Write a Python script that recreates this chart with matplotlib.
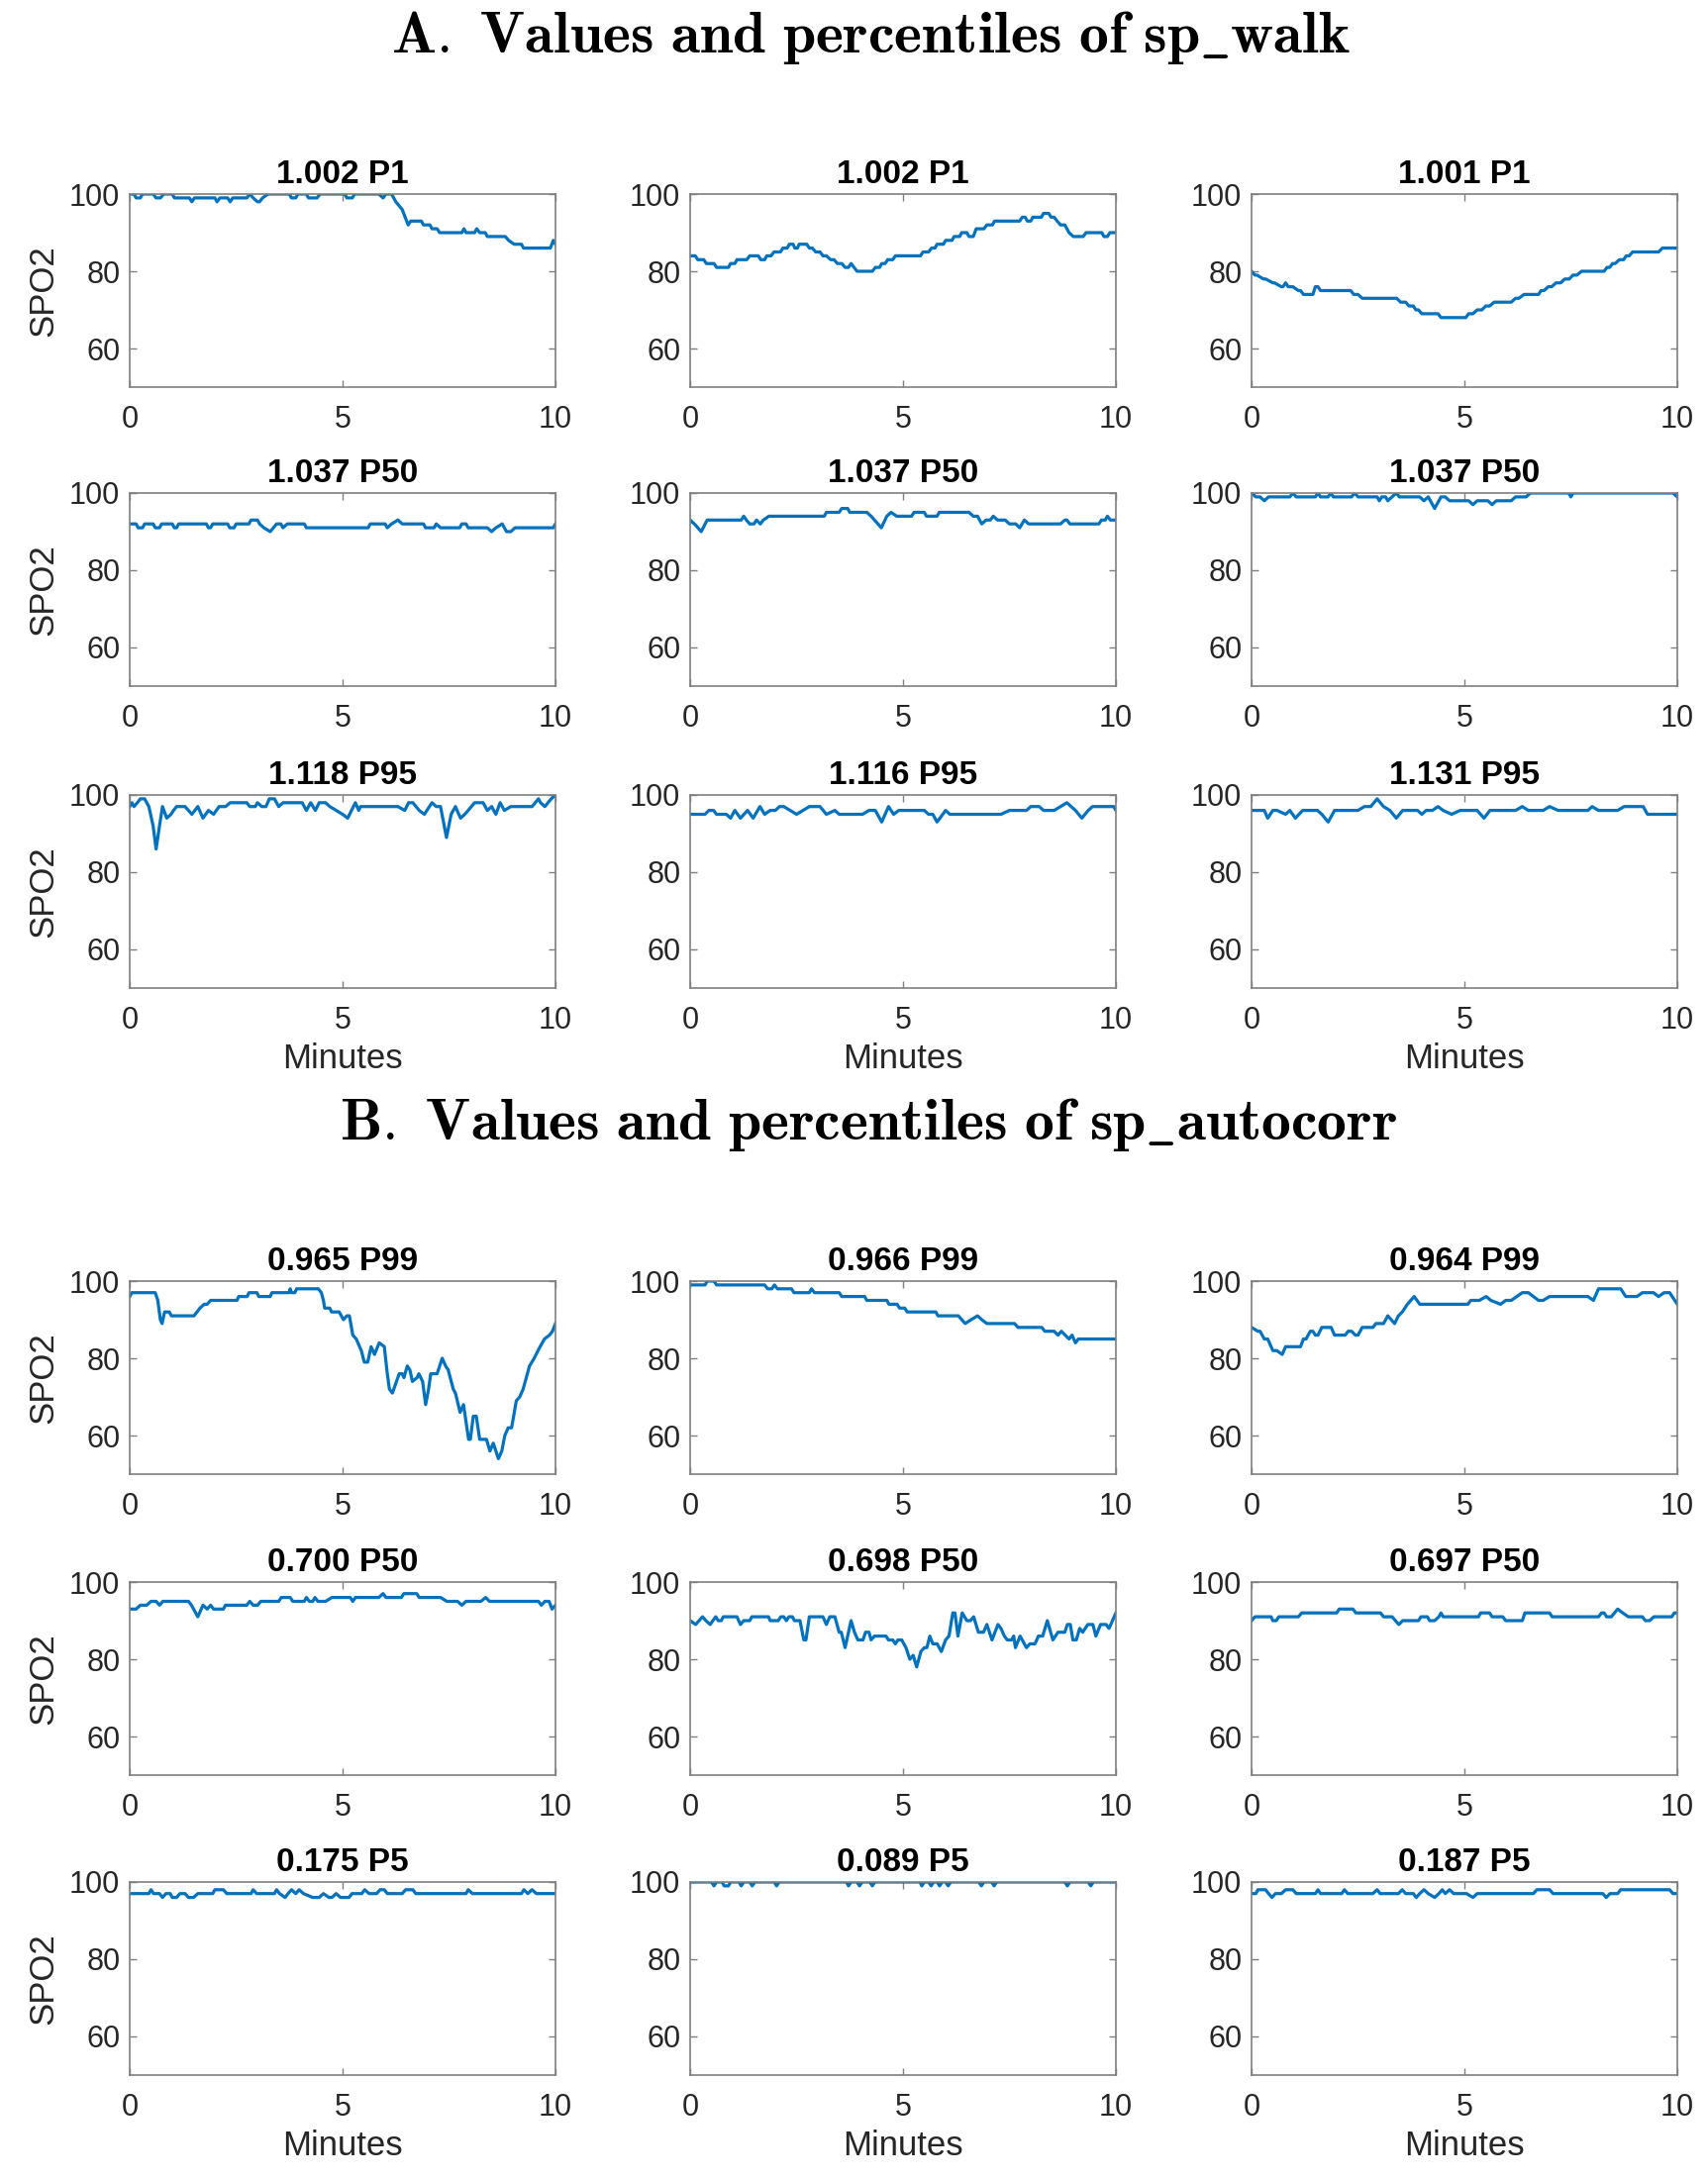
import matplotlib
matplotlib.use("Agg")
import matplotlib.pyplot as plt

plt.rcParams["font.family"] = ["Liberation Sans", "DejaVu Sans"]
plt.rcParams["mathtext.fontset"] = "cm"

# ---- data: (minute, SpO2) breakpoints ----

# A. sp_walk, P1 row
walk_p1_a = [(0, 100), (0.1, 100), (0.15, 99), (0.25, 99), (0.3, 100), (0.55, 100), (0.62, 99), (0.72, 99),
             (0.8, 100), (1.0, 100), (1.05, 99), (1.4, 99), (1.46, 98), (1.52, 99), (2.0, 99), (2.05, 98),
             (2.12, 99), (2.3, 99), (2.36, 98), (2.42, 99), (2.75, 99), (2.82, 100), (2.9, 99), (3.0, 98),
             (3.05, 98), (3.12, 99), (3.25, 100), (3.75, 100), (3.8, 99), (3.9, 99), (3.95, 100), (4.15, 100),
             (4.2, 99), (4.4, 99), (4.47, 100), (5.05, 100), (5.1, 99), (5.23, 99), (5.28, 100), (5.85, 100),
             (5.95, 99), (6.02, 100), (6.15, 100), (6.25, 98), (6.4, 96), (6.54, 92), (6.6, 93), (6.85, 93),
             (6.9, 92), (7.05, 92), (7.1, 91), (7.22, 91), (7.28, 90), (7.8, 90), (7.85, 91), (7.9, 90),
             (8.1, 90), (8.15, 91), (8.22, 90), (8.35, 90), (8.4, 89), (8.82, 89), (8.9, 88), (9.03, 87),
             (9.2, 87), (9.25, 86), (9.88, 86), (9.95, 88), (10, 87)]
walk_p1_b = [(0, 84), (0.12, 84), (0.18, 83), (0.32, 83), (0.38, 82), (0.56, 82), (0.62, 81), (0.9, 81),
             (0.95, 82), (1.05, 82), (1.1, 83), (1.33, 83), (1.4, 84), (1.6, 84), (1.66, 83), (1.75, 83),
             (1.8, 84), (1.9, 84), (1.97, 85), (2.12, 85), (2.18, 86), (2.28, 86), (2.33, 87), (2.42, 87),
             (2.46, 86), (2.52, 86), (2.56, 87), (2.74, 87), (2.8, 86), (2.87, 86), (2.95, 85), (3.05, 85),
             (3.12, 84), (3.2, 84), (3.3, 83), (3.38, 83), (3.46, 82), (3.56, 82), (3.64, 81), (3.72, 81),
             (3.78, 82), (3.85, 81), (3.92, 80), (4.28, 80), (4.35, 81), (4.45, 81), (4.5, 82), (4.58, 82),
             (4.64, 83), (4.76, 83), (4.82, 84), (5.41, 84), (5.47, 85), (5.6, 85), (5.67, 86), (5.75, 86),
             (5.8, 87), (5.95, 87), (6.0, 88), (6.15, 88), (6.2, 89), (6.33, 89), (6.38, 90), (6.5, 90),
             (6.55, 89), (6.65, 89), (6.72, 91), (6.9, 91), (6.97, 92), (7.1, 92), (7.15, 93), (7.74, 93),
             (7.8, 94), (7.87, 94), (7.92, 93), (8.0, 93), (8.05, 94), (8.25, 94), (8.3, 95), (8.42, 95),
             (8.48, 94), (8.55, 94), (8.62, 93), (8.7, 92), (8.8, 92), (8.9, 90), (9.0, 89), (9.23, 89),
             (9.3, 90), (9.67, 90), (9.72, 89), (9.8, 89), (9.86, 90), (10, 90)]
walk_p1_c = [(0, 80), (0.08, 79), (0.13, 79), (0.28, 78), (0.33, 78), (0.5, 77), (0.54, 77), (0.7, 76),
             (0.74, 76), (0.8, 77), (0.86, 76), (0.97, 76), (1.1, 75), (1.15, 75), (1.22, 74), (1.44, 74),
             (1.5, 76), (1.56, 76), (1.62, 75), (2.33, 75), (2.4, 74), (2.5, 74), (2.6, 73), (3.41, 73),
             (3.5, 72), (3.62, 72), (3.7, 71), (3.8, 71), (3.86, 70), (3.92, 70), (4.0, 69), (4.38, 69),
             (4.45, 68), (5.03, 68), (5.1, 69), (5.2, 69), (5.3, 70), (5.41, 70), (5.5, 71), (5.59, 71),
             (5.7, 72), (6.1, 72), (6.2, 73), (6.28, 73), (6.4, 74), (6.74, 74), (6.8, 75), (6.87, 75),
             (6.97, 76), (7.05, 76), (7.15, 77), (7.26, 77), (7.36, 78), (7.46, 78), (7.55, 79), (7.64, 79),
             (7.75, 80), (8.28, 80), (8.35, 81), (8.41, 81), (8.48, 82), (8.54, 82), (8.64, 83), (8.74, 83),
             (8.8, 84), (8.87, 84), (8.95, 85), (9.56, 85), (9.65, 86), (10, 86)]

# A. sp_walk, P50 row
walk_p50_a = [(0, 92), (0.15, 92), (0.2, 91), (0.3, 91), (0.35, 92), (0.55, 92), (0.6, 91), (0.7, 91),
              (0.75, 92), (1.0, 92), (1.05, 91), (1.1, 91), (1.15, 92), (1.8, 92), (1.85, 91), (1.9, 91),
              (1.95, 92), (2.3, 92), (2.35, 91), (2.45, 91), (2.5, 92), (2.8, 92), (2.85, 93), (3.0, 93),
              (3.05, 92), (3.15, 91), (3.3, 90), (3.45, 92), (3.55, 92), (3.6, 91), (3.7, 92), (4.1, 92),
              (4.15, 91), (5.6, 91), (5.65, 92), (6.0, 92), (6.05, 91), (6.15, 92), (6.3, 93), (6.4, 92),
              (6.9, 92), (6.95, 91), (7.15, 91), (7.2, 92), (7.3, 91), (7.75, 91), (7.8, 92), (7.9, 92),
              (7.95, 91), (8.4, 91), (8.5, 90), (8.6, 91), (8.75, 92), (8.85, 90), (8.95, 90), (9.05, 91),
              (9.95, 91), (10, 92)]
walk_p50_b = [(0, 93), (0.1, 92), (0.26, 90), (0.4, 93), (1.2, 93), (1.26, 94), (1.32, 93), (1.4, 92),
              (1.5, 92), (1.56, 93), (1.65, 92), (1.72, 93), (1.85, 94), (3.15, 94), (3.2, 95), (3.5, 95),
              (3.56, 96), (3.7, 96), (3.75, 95), (4.15, 95), (4.25, 94), (4.49, 91), (4.62, 94), (4.72, 95),
              (4.85, 94), (5.2, 94), (5.26, 95), (5.5, 95), (5.55, 94), (5.8, 94), (5.85, 95), (6.55, 95),
              (6.65, 94), (6.75, 94), (6.85, 92), (6.95, 93), (7.05, 93), (7.12, 94), (7.22, 93), (7.4, 93),
              (7.5, 92), (7.65, 92), (7.74, 91), (7.85, 93), (7.95, 92), (8.7, 92), (8.8, 93), (8.85, 93),
              (8.92, 92), (9.6, 92), (9.66, 93), (9.75, 93), (9.8, 94), (9.87, 93), (10, 93)]
walk_p50_c = [(0, 100), (0.1, 99), (0.2, 99), (0.3, 98), (0.4, 99), (0.9, 99), (0.97, 100), (1.05, 99),
              (1.5, 99), (1.56, 100), (1.62, 99), (1.8, 99), (1.86, 100), (1.92, 99), (2.35, 99), (2.42, 100),
              (2.5, 99), (2.95, 99), (3.0, 98), (3.06, 99), (3.15, 99), (3.2, 98), (3.3, 99), (3.4, 100),
              (3.47, 99), (3.95, 99), (4.05, 98), (4.15, 99), (4.3, 96), (4.45, 99), (4.55, 99), (4.65, 98),
              (5.1, 98), (5.2, 97), (5.3, 98), (5.55, 98), (5.65, 97), (5.75, 98), (6.1, 98), (6.2, 99),
              (6.45, 99), (6.55, 100), (7.45, 100), (7.5, 99), (7.55, 100), (9.9, 100), (10, 99)]

# A. sp_walk, P95 row
walk_p95_a = [(0, 97), (0.05, 98), (0.1, 97), (0.18, 98), (0.25, 99), (0.35, 99), (0.45, 97), (0.55, 92),
              (0.62, 86), (0.7, 92), (0.77, 97), (0.87, 94), (0.97, 95), (1.03, 96), (1.1, 97), (1.3, 97),
              (1.46, 95), (1.6, 97), (1.72, 94), (1.85, 96), (1.97, 95), (2.1, 97), (2.25, 97), (2.36, 98),
              (2.75, 98), (2.82, 97), (2.95, 97), (3.0, 98), (3.1, 97), (3.2, 97), (3.28, 99), (3.4, 99),
              (3.5, 97), (3.6, 98), (4.05, 98), (4.15, 96), (4.25, 98), (4.36, 96), (4.45, 98), (4.6, 98),
              (4.7, 97), (4.85, 96), (5.0, 95), (5.12, 94), (5.3, 98), (5.38, 96), (5.42, 97), (6.3, 97),
              (6.46, 96), (6.55, 98), (6.65, 98), (6.8, 96), (6.92, 95), (7.1, 98), (7.2, 97), (7.3, 97),
              (7.44, 89), (7.55, 95), (7.65, 97), (7.77, 94), (7.87, 95), (7.95, 96), (8.1, 98), (8.3, 98),
              (8.4, 96), (8.5, 97), (8.6, 95), (8.7, 98), (8.8, 96), (8.95, 97), (9.45, 97), (9.6, 99),
              (9.65, 98), (9.75, 97), (9.9, 99), (10, 100)]
walk_p95_b = [(0, 95), (0.35, 95), (0.44, 96), (0.55, 96), (0.62, 95), (0.85, 95), (0.95, 94), (1.05, 96),
              (1.18, 94), (1.35, 96), (1.48, 94), (1.64, 97), (1.75, 95), (1.88, 96), (2.0, 96), (2.1, 97),
              (2.2, 97), (2.35, 96), (2.5, 95), (2.65, 96), (2.8, 97), (3.05, 97), (3.2, 95), (3.4, 96),
              (3.5, 95), (4.05, 95), (4.2, 96), (4.35, 96), (4.5, 93), (4.66, 97), (4.78, 95), (4.9, 96),
              (5.5, 96), (5.6, 95), (5.7, 95), (5.8, 93), (6.0, 96), (6.1, 95), (7.3, 95), (7.5, 96),
              (7.9, 96), (8.0, 97), (8.2, 97), (8.3, 96), (8.55, 96), (8.7, 97), (8.85, 98), (8.95, 97),
              (9.05, 96), (9.2, 94), (9.35, 96), (9.45, 97), (9.95, 97), (10, 96)]
walk_p95_c = [(0, 96), (0.3, 96), (0.38, 94), (0.5, 96), (0.6, 96), (0.8, 95), (0.9, 96), (1.03, 94),
              (1.2, 96), (1.55, 96), (1.65, 95), (1.8, 93), (1.95, 96), (2.5, 96), (2.65, 97), (2.8, 97),
              (2.95, 99), (3.1, 97), (3.25, 96), (3.4, 94), (3.55, 96), (3.9, 96), (4.0, 95), (4.1, 96),
              (4.25, 96), (4.38, 97), (4.5, 96), (4.7, 95), (4.9, 96), (5.3, 96), (5.46, 94), (5.6, 96),
              (6.2, 96), (6.36, 97), (6.5, 96), (6.85, 96), (7.0, 97), (7.2, 96), (7.9, 96), (8.0, 97),
              (8.15, 96), (8.6, 96), (8.75, 97), (9.2, 97), (9.3, 95), (10, 95)]

# B. sp_autocorr, P99 row
auto_p99_a = [(0, 96), (0.05, 97), (0.6, 97), (0.66, 95), (0.72, 90), (0.76, 89), (0.82, 92), (0.93, 92),
              (0.98, 91), (1.51, 91), (1.58, 92), (1.65, 93), (1.75, 94), (1.82, 94), (1.9, 95), (2.52, 95),
              (2.56, 96), (2.76, 96), (2.8, 97), (2.99, 97), (3.03, 96), (3.3, 96), (3.34, 97), (3.74, 97),
              (3.77, 98), (3.8, 97), (3.88, 97), (3.92, 98), (4.43, 98), (4.5, 97), (4.55, 95), (4.58, 93),
              (4.7, 93), (4.74, 92), (4.92, 92), (4.97, 91), (5.02, 90), (5.1, 91), (5.16, 91), (5.24, 86),
              (5.32, 85), (5.44, 82), (5.51, 79), (5.59, 79), (5.67, 83), (5.75, 81), (5.86, 84), (5.98, 83),
              (6.05, 76), (6.1, 72), (6.17, 71), (6.33, 76), (6.4, 76), (6.44, 75), (6.52, 78), (6.58, 77),
              (6.64, 74), (6.75, 75), (6.79, 76), (6.88, 74), (6.95, 68), (7.02, 72), (7.07, 76), (7.22, 76),
              (7.34, 80), (7.42, 78), (7.48, 77), (7.6, 72), (7.65, 71), (7.76, 66), (7.84, 68), (7.96, 59),
              (8.0, 59), (8.07, 65), (8.14, 65), (8.22, 59), (8.38, 59), (8.46, 56), (8.54, 58), (8.66, 54),
              (8.74, 56), (8.81, 60), (8.89, 62), (8.97, 62), (9.08, 69), (9.16, 70), (9.24, 72), (9.39, 78),
              (9.5, 80), (9.59, 82), (9.74, 85), (9.86, 86), (9.93, 87), (10, 89)]
auto_p99_b = [(0, 99), (0.35, 99), (0.4, 100), (0.56, 100), (0.62, 99), (1.75, 99), (1.82, 98), (1.92, 98),
              (1.98, 99), (2.05, 98), (2.38, 98), (2.44, 97), (2.8, 97), (2.85, 98), (2.92, 97), (3.5, 97),
              (3.56, 96), (4.1, 96), (4.15, 95), (4.62, 95), (4.67, 94), (4.86, 94), (4.92, 93), (5.04, 93),
              (5.1, 92), (5.77, 92), (5.82, 91), (6.3, 91), (6.46, 89), (6.6, 90), (6.75, 91), (6.85, 90),
              (6.97, 89), (7.62, 89), (7.7, 88), (8.26, 88), (8.33, 87), (8.55, 87), (8.64, 86), (8.72, 87),
              (8.9, 85), (8.97, 86), (9.05, 84), (9.12, 85), (10, 85)]
auto_p99_c = [(0, 88), (0.15, 87), (0.2, 87), (0.3, 85), (0.38, 85), (0.5, 82), (0.59, 82), (0.72, 81),
              (0.8, 83), (1.15, 83), (1.22, 85), (1.28, 85), (1.38, 87), (1.44, 87), (1.5, 86), (1.56, 86),
              (1.65, 88), (1.87, 88), (1.95, 86), (2.2, 86), (2.27, 87), (2.35, 87), (2.44, 86), (2.5, 86),
              (2.6, 88), (2.85, 88), (2.92, 89), (3.1, 89), (3.2, 91), (3.28, 90), (3.36, 89), (3.45, 91),
              (3.54, 92), (3.66, 94), (3.82, 96), (3.95, 94), (4.31, 94), (5.08, 94), (5.15, 95), (5.35, 95),
              (5.51, 96), (5.62, 95), (5.85, 94), (5.97, 95), (6.1, 95), (6.36, 97), (6.5, 97), (6.62, 96),
              (6.74, 95), (6.85, 95), (7.0, 96), (7.9, 96), (8.03, 95), (8.15, 98), (8.67, 98), (8.79, 96),
              (9.05, 96), (9.18, 97), (9.44, 97), (9.56, 96), (9.69, 97), (9.82, 97), (10, 94)]

# B. sp_autocorr, P50 row
auto_p50_a = [(0, 93), (0.15, 93), (0.25, 94), (0.4, 94), (0.5, 95), (0.62, 95), (0.7, 94), (0.78, 95),
              (1.38, 95), (1.45, 94), (1.6, 91), (1.72, 94), (1.82, 93), (1.9, 94), (1.97, 93), (2.2, 93),
              (2.25, 94), (2.75, 94), (2.82, 95), (2.9, 94), (3.0, 94), (3.08, 95), (3.5, 95), (3.56, 96),
              (3.77, 96), (3.83, 95), (4.1, 95), (4.15, 96), (4.22, 95), (4.3, 95), (4.35, 96), (4.42, 95),
              (4.6, 95), (4.75, 96), (5.18, 96), (5.24, 95), (5.3, 96), (5.85, 96), (5.95, 97), (6.02, 96),
              (6.38, 96), (6.44, 97), (6.74, 97), (6.8, 96), (7.3, 96), (7.45, 95), (7.7, 95), (7.8, 94),
              (7.9, 95), (8.25, 95), (8.36, 96), (8.45, 95), (9.6, 95), (9.67, 94), (9.75, 95), (9.85, 95),
              (9.92, 93), (10, 94)]
auto_p50_b = [(0, 90), (0.13, 89), (0.29, 91), (0.37, 90), (0.47, 89), (0.6, 91), (0.66, 90), (0.73, 90),
              (0.78, 91), (1.1, 91), (1.18, 89), (1.26, 90), (1.4, 90), (1.45, 91), (1.84, 91), (1.88, 90),
              (2.07, 90), (2.13, 91), (2.2, 91), (2.26, 90), (2.32, 91), (2.4, 91), (2.45, 90), (2.58, 90),
              (2.67, 85), (2.72, 85), (2.8, 91), (3.12, 91), (3.2, 89), (3.28, 91), (3.4, 91), (3.5, 87),
              (3.55, 87), (3.64, 83), (3.78, 90), (3.86, 87), (3.94, 85), (4.06, 85), (4.12, 87), (4.2, 87),
              (4.25, 85), (4.33, 86), (4.6, 86), (4.66, 85), (4.76, 85), (4.82, 84), (4.88, 85), (4.97, 85),
              (5.07, 83), (5.16, 80), (5.24, 81), (5.32, 78), (5.42, 82), (5.5, 83), (5.56, 83), (5.63, 86),
              (5.7, 84), (5.8, 84), (5.9, 82), (6.0, 85), (6.08, 86), (6.17, 92), (6.22, 92), (6.29, 86),
              (6.39, 92), (6.5, 90), (6.58, 90), (6.66, 91), (6.77, 87), (6.89, 87), (6.97, 89), (7.09, 85),
              (7.23, 89), (7.3, 88), (7.38, 86), (7.45, 85), (7.55, 85), (7.6, 86), (7.64, 83), (7.75, 86),
              (7.9, 83), (7.98, 84), (8.1, 84), (8.18, 86), (8.28, 86), (8.39, 90), (8.52, 85), (8.64, 87),
              (8.8, 87), (8.86, 89), (8.93, 89), (8.99, 85), (9.07, 85), (9.15, 88), (9.22, 87), (9.34, 89),
              (9.46, 89), (9.53, 86), (9.64, 89), (9.77, 89), (9.84, 88), (9.92, 90), (10, 92)]
auto_p50_c = [(0, 90), (0.08, 91), (0.46, 91), (0.5, 90), (0.58, 90), (0.64, 91), (1.1, 91), (1.18, 92),
              (2.0, 92), (2.06, 93), (2.38, 93), (2.45, 92), (3.03, 92), (3.1, 91), (3.3, 91), (3.46, 89),
              (3.55, 90), (3.92, 90), (3.98, 91), (4.13, 91), (4.18, 90), (4.3, 90), (4.4, 91), (4.45, 92),
              (4.5, 91), (5.33, 91), (5.38, 92), (5.59, 92), (5.65, 91), (5.9, 91), (5.97, 90), (6.36, 90),
              (6.42, 92), (7.0, 92), (7.06, 91), (8.15, 91), (8.22, 92), (8.28, 92), (8.34, 91), (8.45, 91),
              (8.6, 93), (8.72, 92), (8.85, 91), (9.18, 91), (9.25, 90), (9.35, 90), (9.45, 91), (9.87, 91),
              (9.93, 92), (10, 92)]

# B. sp_autocorr, P5 row
auto_p5_a = [(0, 97), (0.45, 97), (0.5, 98), (0.56, 97), (0.7, 97), (0.77, 96), (0.85, 97), (0.95, 97),
             (1.0, 96), (1.1, 96), (1.18, 97), (1.3, 97), (1.38, 96), (1.5, 96), (1.6, 97), (1.95, 97),
             (2.0, 98), (2.2, 98), (2.28, 97), (2.85, 97), (2.9, 98), (2.98, 97), (3.4, 97), (3.45, 98),
             (3.52, 97), (3.65, 96), (3.72, 97), (3.8, 98), (3.9, 97), (3.98, 98), (4.08, 97), (4.3, 96),
             (4.45, 96), (4.55, 97), (4.68, 96), (4.75, 96), (4.85, 97), (4.95, 96), (5.15, 96), (5.22, 97),
             (5.45, 97), (5.52, 98), (5.62, 97), (5.8, 97), (5.88, 98), (5.98, 98), (6.05, 97), (6.4, 97),
             (6.48, 98), (6.65, 98), (6.72, 97), (7.9, 97), (7.95, 98), (8.05, 97), (9.2, 97), (9.26, 98),
             (9.35, 97), (9.45, 98), (9.55, 97), (10, 97)]
auto_p5_b = [(0, 100), (0.5, 100), (0.56, 99), (0.62, 100), (0.75, 100), (0.8, 99), (0.9, 99), (0.95, 100),
             (1.15, 100), (1.2, 99), (1.26, 100), (1.4, 100), (1.46, 99), (1.52, 100), (1.98, 100), (2.03, 99),
             (2.09, 100), (3.67, 100), (3.72, 99), (3.78, 100), (3.92, 100), (3.98, 99), (4.04, 100),
             (4.22, 100), (4.28, 99), (4.34, 100), (5.4, 100), (5.44, 99), (5.5, 100), (5.6, 100), (5.66, 99),
             (5.72, 100), (5.8, 100), (5.86, 99), (5.92, 100), (6.0, 100), (6.06, 99), (6.12, 100),
             (6.78, 100), (6.84, 99), (6.9, 100), (7.08, 100), (7.14, 99), (7.2, 100), (8.8, 100),
             (8.86, 99), (8.92, 100), (9.35, 100), (9.41, 99), (9.47, 100), (10, 100)]
auto_p5_c = [(0, 97), (0.1, 97), (0.15, 98), (0.33, 98), (0.4, 97), (0.48, 96), (0.56, 97), (0.7, 97),
             (0.8, 98), (0.97, 98), (1.05, 97), (1.5, 97), (1.56, 98), (1.62, 97), (2.12, 97), (2.18, 98),
             (2.26, 97), (2.85, 97), (2.95, 98), (3.02, 97), (3.45, 97), (3.54, 98), (3.62, 97), (3.8, 97),
             (3.87, 96), (3.95, 97), (4.05, 98), (4.15, 97), (4.3, 96), (4.4, 97), (4.48, 98), (4.55, 97),
             (4.65, 98), (4.75, 97), (5.05, 97), (5.2, 96), (5.3, 97), (6.62, 97), (6.7, 98), (7.0, 98),
             (7.08, 97), (8.25, 97), (8.33, 96), (8.42, 97), (8.6, 97), (8.67, 98), (9.82, 98), (9.9, 97),
             (10, 97)]

walk_rows = [[walk_p1_a, walk_p1_b, walk_p1_c],
             [walk_p50_a, walk_p50_b, walk_p50_c],
             [walk_p95_a, walk_p95_b, walk_p95_c]]
walk_titles = [["1.002 P1", "1.002 P1", "1.001 P1"],
               ["1.037 P50", "1.037 P50", "1.037 P50"],
               ["1.118 P95", "1.116 P95", "1.131 P95"]]
auto_rows = [[auto_p99_a, auto_p99_b, auto_p99_c],
             [auto_p50_a, auto_p50_b, auto_p50_c],
             [auto_p5_a, auto_p5_b, auto_p5_c]]
auto_titles = [["0.965 P99", "0.966 P99", "0.964 P99"],
               ["0.700 P50", "0.698 P50", "0.697 P50"],
               ["0.175 P5", "0.089 P5", "0.187 P5"]]

# ---- layout (pixels of a 1725x2202 canvas) ----
W, H = 1725, 2202
col_left = [131, 697, 1264]
row_top = [196, 498, 803, 1294, 1598, 1901]
ax_w, ax_h = 430, 195
LINE = "#0072BD"
EDGE = "#808080"
TXT = "#262626"

fig = plt.figure(figsize=(W / 100, H / 100), dpi=100)

fig.text(879 / W, 1 - 38 / H, r"$\mathbf{A.\ Values\ and\ percentiles\ of\ sp\_walk}$",
         ha="center", va="center", fontsize=43)
fig.text(877 / W, 1 - 1136 / H, r"$\mathbf{B.\ Values\ and\ percentiles\ of\ sp\_autocorr}$",
         ha="center", va="center", fontsize=43)

all_rows = walk_rows + auto_rows
all_titles = walk_titles + auto_titles

for r, (series_row, title_row) in enumerate(zip(all_rows, all_titles)):
    for c, (series, title) in enumerate(zip(series_row, title_row)):
        x0 = col_left[c] / W
        y0 = 1 - (row_top[r] + ax_h) / H
        ax = fig.add_axes([x0, y0, ax_w / W, ax_h / H])
        t, v = zip(*series)
        ax.plot(t, v, color=LINE, lw=2.3)
        ax.set_xlim(0, 10)
        ax.set_ylim(50, 100)
        ax.set_xticks([0, 5, 10])
        ax.set_yticks([60, 80, 100])
        for sp in ax.spines.values():
            sp.set_color(EDGE)
            sp.set_linewidth(1.2)
        ax.tick_params(direction="in", top=True, right=True, length=5, width=1,
                       color=EDGE, labelcolor=TXT, labelsize=22)
        ax.tick_params(axis="x", pad=13)
        ax.tick_params(axis="y", pad=7)
        ax.set_title(title, fontsize=24, fontweight="bold", pad=8, color="black")
        if c == 0:
            ax.set_ylabel("SPO2", fontsize=25, color=TXT)
            ax.yaxis.set_label_coords(-0.165, 0.5)
        if r in (2, 5):
            ax.set_xlabel("Minutes", fontsize=25, color=TXT)
            ax.xaxis.set_label_coords(0.5, -0.28)

fig.savefig("out.png", dpi=100)
